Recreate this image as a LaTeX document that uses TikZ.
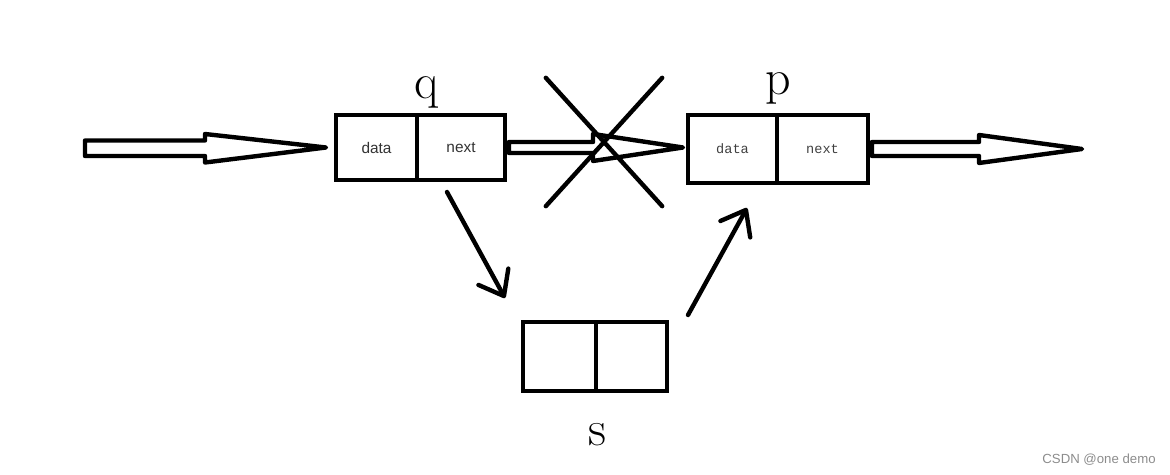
\documentclass[tikz,border=0pt]{standalone}
\usepackage{fontspec}
\newfontfamily\cellsans{Liberation Sans}
\newfontfamily\cellmono{Liberation Mono}
\usetikzlibrary{positioning,arrows.meta,shapes.misc}

\begin{document}
\begin{tikzpicture}[
  x=0.5pt, y=-0.5pt,
  cell/.style={draw, line width=2.2pt, inner sep=0pt, outer sep=0pt},
  qtxt/.style={font=\cellsans\fontsize{7.7}{9}\selectfont, text=black!80},
  ptxt/.style={font=\cellmono\fontsize{6.8}{8}\selectfont, text=black!75},
  varname/.style={font=\fontsize{25}{28}\selectfont, inner sep=0pt, anchor=base},
  hollow/.style={draw, line width=2.2pt, line join=round, fill=white},
  ptr/.style={line width=2.2pt, line cap=round, -{Straight Barb[length=11pt,width=17pt,round]}},
  wmark/.style={font=\cellsans\fontsize{6.6}{8}\selectfont, text=black!45, anchor=east, inner sep=0pt}]
\useasboundingbox (0,0) rectangle (1170,475);
% nodes q, p and s
\node[cell, minimum width=40.5pt, minimum height=32.5pt, qtxt] (qdata) at (376.5,147.5) {data};
\node[cell, minimum width=44pt, minimum height=32.5pt, qtxt, right=0pt of qdata] (qnext) {next};
\node[cell, minimum width=44.5pt, minimum height=34pt, ptxt] (pdata) at (732.5,149) {data};
\node[cell, minimum width=45.5pt, minimum height=34pt, ptxt, right=0pt of pdata] (pnext) {next};
\node[cell, minimum width=36.5pt, minimum height=34.5pt] (sleft) at (559.5,356.5) {};
\node[cell, minimum width=35.5pt, minimum height=34.5pt, right=0pt of sleft] (sright) {};
\node[varname] (qlbl) at ([shift={(5pt,8pt)}]qdata.north east) {q};
\node[varname] (plbl) at ([shift={(0.5pt,10pt)}]pdata.north east) {p};
\node[varname] (slbl) at ([shift={(0.5pt,-27pt)}]sleft.south east) {s};
% hollow arrows
\coordinate (inL) at (85,149);
\draw[hollow] (inL) -- ++(0,-8.5) -- ++(120,0) -- ++(0,-6.5) -- ([xshift=-5pt]qdata.west)
  -- ++(-121,15) -- ++(0,-6.5) -- ++(-120,0) -- cycle;
\draw[hollow] ([xshift=2pt]qnext.east) -- ++(0,-5.5) -- ++(84,0) -- ++(0,-8) -- ++(90,13.5)
  -- ++(-90,13.5) -- ++(0,-8) -- ++(-84,0) -- cycle;
\draw[hollow] ([xshift=2pt]pnext.east) -- ++(0,-7) -- ++(107,0) -- ++(0,-7) -- ++(103,14)
  -- ++(-103,14) -- ++(0,-7) -- ++(-107,0) -- cycle;
% old link crossed out
\node[cross out, draw, line width=2.2pt, line cap=round, minimum width=56pt, minimum height=62pt] (cut) at (604,142) {};
% new links through s
\draw[ptr] ([shift={(15pt,-6pt)}]qnext.south west) -- ([shift={(-45.5pt,12pt)}]sleft.north east);
\draw[ptr] ([shift={(10.5pt,3.5pt)}]sright.north east) -- ([shift={(-15pt,-12.5pt)}]pdata.south east);
\node[wmark] (csdn) at (1156,460) {CSDN @one demo};
\end{tikzpicture}
\end{document}
